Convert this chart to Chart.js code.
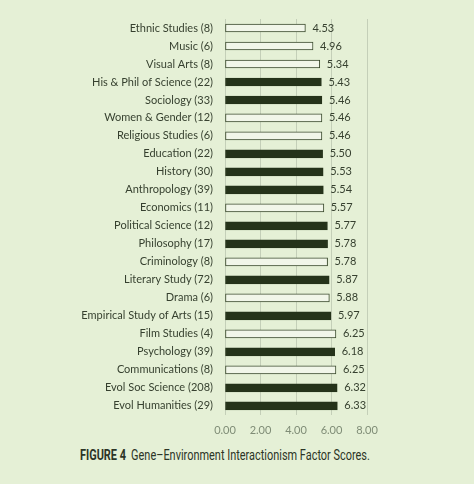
<!DOCTYPE html>
<html>
<head>
<meta charset="utf-8">
<script src="https://cdn.jsdelivr.net/npm/chart.js@4"></script>
<style>
    body { margin: 0; background: #e5f0d6; }
    #wrap { position: relative; width: 474px; height: 484px; background: #e5f0d6; overflow: hidden; }
    #chart { position: absolute; left: 0; top: 0; }
    #caption {
        position: absolute; left: 80px; top: 446px;
        font-family: Roboto, "Liberation Sans", sans-serif;
        font-size: 15px; color: #2c3526; white-space: nowrap;
        transform-origin: 0 0;
    }
    #caption b { margin-right: 7px; }
</style>
</head>
<body>
<div id="wrap">
    <canvas id="chart" width="474" height="446"></canvas>
    <div id="caption"><b>FIGURE 4</b>Gene–Environment Interactionism Factor Scores.</div>
</div>
<script>
const categories = [
    'Ethnic Studies (8)', 'Music (6)', 'Visual Arts (8)', 'His & Phil of Science (22)',
    'Sociology (33)', 'Women & Gender (12)', 'Religious Studies (6)', 'Education (22)',
    'History (30)', 'Anthropology (39)', 'Economics (11)', 'Political Science (12)',
    'Philosophy (17)', 'Criminology (8)', 'Literary Study (72)', 'Drama (6)',
    'Empirical Study of Arts (15)', 'Film Studies (4)', 'Psychology (39)',
    'Communications (8)', 'Evol Soc Science (208)', 'Evol Humanities (29)'
];
const scores = [4.53, 4.96, 5.34, 5.43, 5.46, 5.46, 5.46, 5.50, 5.53, 5.54, 5.57,
    5.77, 5.78, 5.78, 5.87, 5.88, 5.97, 6.25, 6.18, 6.25, 6.32, 6.33];
// true = solid bar, false = outlined bar
const solid = [false, false, false, true, true, false, false, true, true, true, false,
    true, true, false, true, false, true, false, true, false, true, true];
const xTicks = [0, 2, 4, 6, 8];

const dark = '#25331a';
const fillOpen = '#f1f6e9';

const valueLabels = {
    id: 'valueLabels',
    afterDatasetsDraw(chart) {
        const ctx = chart.ctx;
        const meta = chart.getDatasetMeta(0);
        ctx.save();
        ctx.font = '11px Lato, sans-serif';
        ctx.fillStyle = '#36402f';
        ctx.textBaseline = 'middle';
        ctx.textAlign = 'left';
        meta.data.forEach((bar, i) => {
            ctx.fillText(scores[i].toFixed(2), bar.x + 7, bar.y);
        });
        ctx.restore();
    }
};

const chart = new Chart(document.getElementById('chart'), {
    type: 'bar',
    data: {
        labels: categories,
        datasets: [{
            data: scores,
            backgroundColor: solid.map(s => s ? dark : fillOpen),
            borderColor: solid.map(s => s ? dark : '#3a4a2c'),
            borderWidth: 1,
            borderSkipped: false,
            barThickness: 8
        }]
    },
    options: {
        indexAxis: 'y',
        responsive: false,
        animation: false,
        layout: { padding: { left: 0, right: 107, top: 19, bottom: 0 } },
        plugins: {
            legend: { display: false },
            tooltip: { enabled: false }
        },
        scales: {
            x: {
                min: 0,
                max: 8,
                afterBuildTicks: scale => { scale.ticks = xTicks.map(v => ({ value: v })); },
                grid: { color: '#c4cfb8', drawTicks: false },
                border: { display: false },
                ticks: {
                    padding: 9,
                    color: '#7f8c76',
                    font: { family: 'Lato, sans-serif', size: 11 },
                    callback: v => v.toFixed(2)
                }
            },
            y: {
                grid: { display: false, drawTicks: false },
                border: { display: false },
                afterFit: scale => { scale.width = 225; },
                ticks: {
                    padding: 12,
                    color: '#36402f',
                    autoSkip: false,
                    font: { family: 'Lato, sans-serif', size: 11 }
                }
            }
        }
    },
    plugins: [valueLabels]
});

// squeeze the caption to the narrow width of the original figure text
const caption = document.getElementById('caption');
caption.style.transform = 'scaleX(' + (290 / caption.scrollWidth).toFixed(3) + ')';
</script>
</body>
</html>
